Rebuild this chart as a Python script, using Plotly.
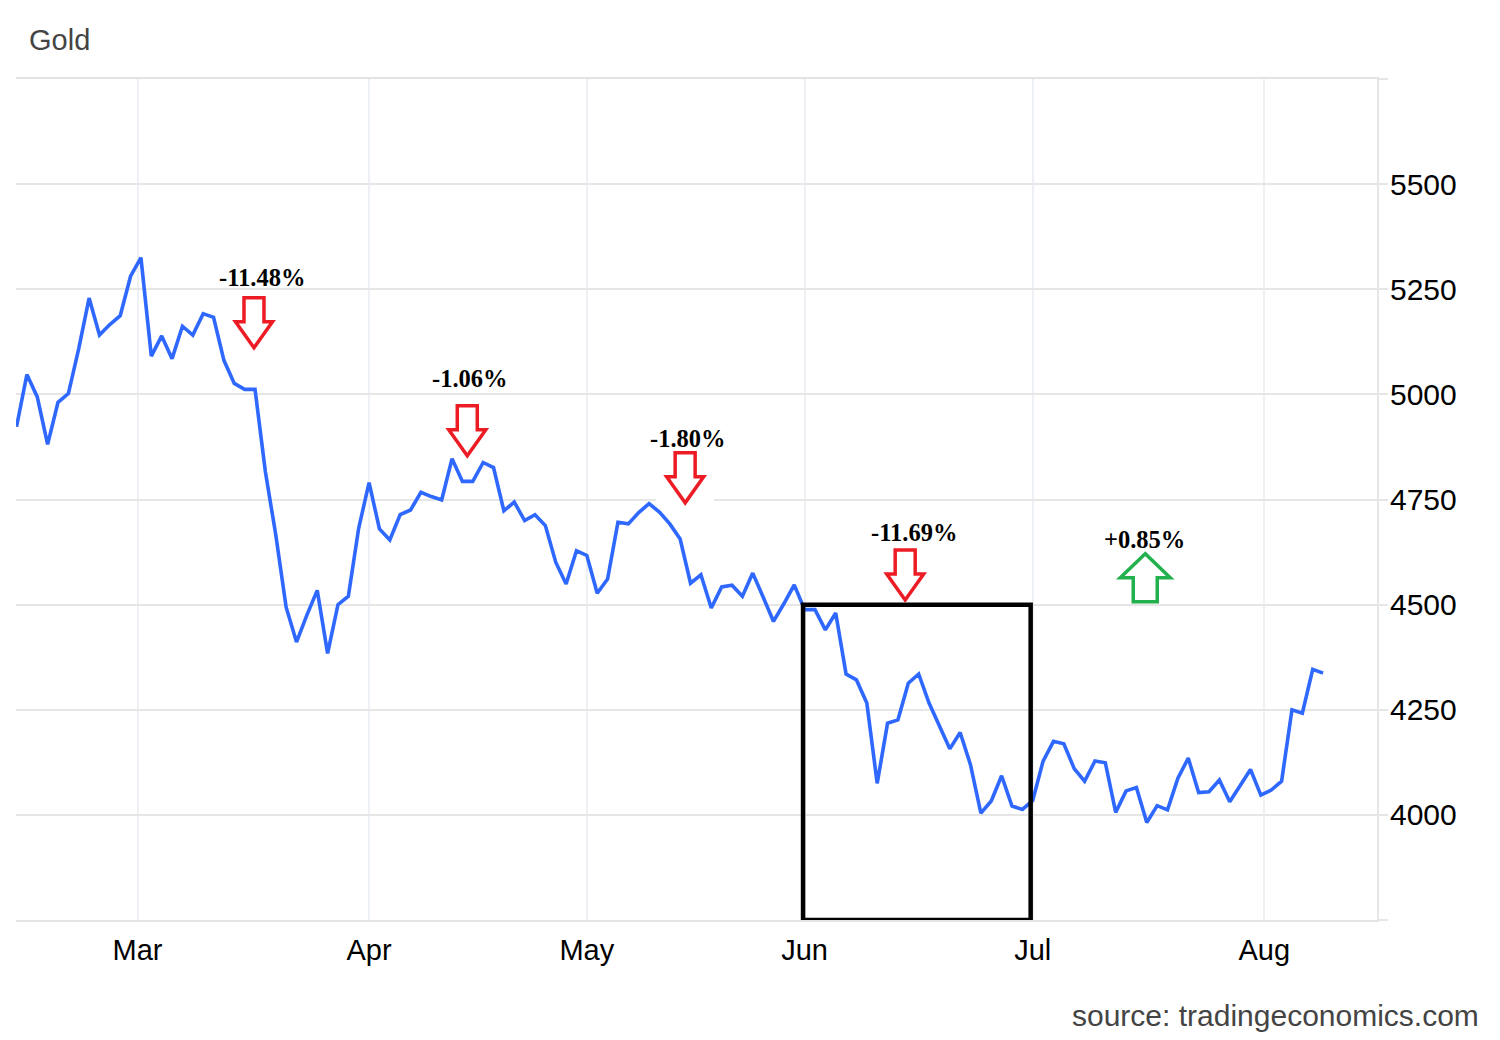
import numpy as np
import pandas as pd
import plotly.graph_objects as go

# ---------------- data ----------------
gold = [
    4923, 5047, 4994, 4881, 4981, 5002, 5109, 5229, 5141, 5166,
    5187, 5281, 5325, 5091, 5139, 5085, 5162, 5141, 5192, 5183,
    5081, 5026, 5012, 5012, 4816, 4666, 4494, 4411, 4475, 4534,
    4384, 4500, 4520, 4682, 4790, 4680, 4654, 4714, 4725, 4767,
    4757, 4749, 4847, 4793, 4793, 4838, 4826, 4723, 4744, 4700,
    4714, 4688, 4601, 4549, 4628, 4617, 4527, 4561, 4696, 4692,
    4719, 4740, 4720, 4692, 4656, 4551, 4571, 4492, 4542, 4546,
    4520, 4575, 4518, 4460, 4502, 4547, 4488, 4488, 4440, 4480,
    4335, 4321, 4266, 4075, 4218, 4226, 4313, 4335, 4266, 4214,
    4157, 4196, 4119, 4004, 4033, 4093, 4021, 4013, 4034, 4128,
    4175, 4169, 4110, 4080, 4128, 4124, 4006, 4057, 4065, 3982,
    4022, 4012, 4087, 4135, 4053, 4055, 4083, 4031, 4071, 4108,
    4047, 4059, 4080, 4250, 4242, 4346, 4337,
]

# trading days (weekdays, Good Friday closed)
dates = pd.bdate_range("2026-02-12", "2026-08-10")
dates = dates[dates != pd.Timestamp("2026-04-03")]
assert len(dates) == len(gold)
trading_idx = np.arange(len(dates))

month_starts = ["2026-03-01", "2026-04-01", "2026-05-01",
                "2026-06-01", "2026-07-01", "2026-08-01"]
month_labels = ["Mar", "Apr", "May", "Jun", "Jul", "Aug"]

y_ticks = [4000, 4250, 4500, 4750, 5000, 5250, 5500]
y_range = [3750, 5750]
x_range = [-0.05, 131.2]

# annotation labels (percent changes) and arrow anchors
ann_text = ["-11.48%", "-1.06%", "-1.80%", "-11.69%", "+0.85%"]
ann_x = [23.67, 43.7, 64.77, 86.58, 108.76]
ann_y = [5277, 5037, 4894, 4671, 4656]
arrow_dir = ["down", "down", "down", "down", "up"]
arrow_x = [22.9, 43.47, 64.48, 85.7, 108.85]
arrow_y = [5111, 4854, 4742, 4511, 4621]

box_months = ["2026-06-01", "2026-07-01"]
box_top = 4500

# ---------------- helpers ----------------
ms_ns = pd.to_datetime(month_starts).values.astype("int64")
d_ns = dates.values.astype("int64")
tick_pos = np.interp(ms_ns, d_ns, trading_idx)
box_pos = np.interp(pd.to_datetime(box_months).values.astype("int64"), d_ns, trading_idx)

FONT = "Liberation Sans, Arial, sans-serif"
SERIF = "Liberation Serif, Times New Roman, serif"
RED = "#ed1c24"
GREEN = "#22b14c"

fig = go.Figure()
fig.add_trace(go.Scatter(
    x=trading_idx, y=gold, mode="lines",
    line=dict(color="#2f68ff", width=3.6),
    customdata=dates.strftime("%b %d, %Y"),
    hovertemplate="%{customdata}<br>%{y}<extra></extra>",
    showlegend=False,
))

shapes = []
# black highlight box (June)
shapes.append(dict(type="rect", xref="x", yref="y",
                   x0=box_pos[0] - 0.15, x1=box_pos[1] - 0.2, y0=y_range[0], y1=box_top,
                   line=dict(color="black", width=4.5), fillcolor="rgba(0,0,0,0)",
                   layer="above"))

down_path = "M 0,0 L -18.5,26 L -10,26 L -10,50 L 10,50 L 10,26 L 18.5,26 Z"
up_path = "M 0,0 L -25,-24 L -12,-24 L -12,-48 L 12,-48 L 12,-24 L 25,-24 Z"
down_bg = "M -29,-3 L 29,-3 L 29,52 L -29,52 Z"
up_bg = "M -29,3 L 29,3 L 29,-50 L -29,-50 Z"

for d, ax, ay in zip(arrow_dir, arrow_x, arrow_y):
    color = RED if d == "down" else GREEN
    shapes.append(dict(type="path", xref="x", yref="y",
                       xsizemode="pixel", ysizemode="pixel",
                       xanchor=ax, yanchor=ay,
                       path=down_bg if d == "down" else up_bg,
                       line=dict(width=0), fillcolor="white", layer="between"))
    shapes.append(dict(type="path", xref="x", yref="y",
                       xsizemode="pixel", ysizemode="pixel",
                       xanchor=ax, yanchor=ay,
                       path=down_path if d == "down" else up_path,
                       line=dict(color=color, width=3.5), fillcolor="white",
                       layer="above"))

annotations = []
for t, x, y in zip(ann_text, ann_x, ann_y):
    annotations.append(dict(x=x, y=y, xref="x", yref="y", text=f"<b>{t}</b>",
                            showarrow=False, xanchor="center", yanchor="middle",
                            font=dict(family=SERIF, size=24.5, color="black")))

annotations.append(dict(x=1.0764, y=-0.1141, xref="paper", yref="paper",
                        text="source: tradingeconomics.com", showarrow=False,
                        xanchor="right", yanchor="middle",
                        font=dict(family=FONT, size=30, color="#444444")))

fig.update_layout(
    width=1500, height=1040,
    paper_bgcolor="white", plot_bgcolor="white",
    margin=dict(l=16, r=123, t=79, b=120),
    title=dict(text="Gold", x=29 / 1500, xref="container", xanchor="left",
               y=1 - 40 / 1040, yref="container", yanchor="middle",
               font=dict(family=FONT, size=29, color="#444444")),
    shapes=shapes,
    annotations=annotations,
    hovermode="closest",
)

fig.update_xaxes(
    range=x_range, tickvals=tick_pos, ticktext=month_labels,
    showgrid=True, gridcolor="#edf0f5", gridwidth=2,
    showline=True, linecolor="#e3e3e3", linewidth=2, mirror=True,
    ticks="", zeroline=False, ticklabelstandoff=3,
    tickfont=dict(family=FONT, size=29, color="black"),
)

fig.update_yaxes(
    side="right", range=y_range,
    tickvals=[y_range[0]] + y_ticks + [y_range[1]],
    ticktext=[""] + [str(v) for v in y_ticks] + [""],
    showgrid=True, gridcolor="#e6e6e6", gridwidth=2,
    ticks="outside", ticklen=9, tickwidth=2, tickcolor="#e6e6e6",
    showline=True, linecolor="#e6e6e6", linewidth=2,
    zeroline=False, ticklabelstandoff=-4,
    tickfont=dict(family=FONT, size=30, color="black"),
)

fig.write_html(
    "out.html",
    config={"displayModeBar": False},
    post_script="document.body.style.margin='0';document.body.style.overflow='hidden';",
)
